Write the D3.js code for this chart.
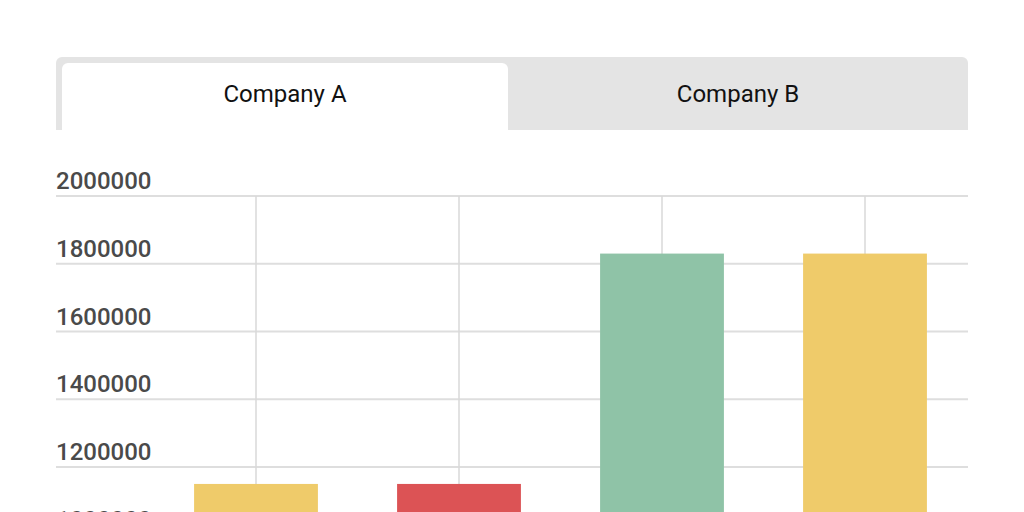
<!DOCTYPE html>
<html>
<head>
<meta charset="utf-8">
<script src="https://cdn.jsdelivr.net/npm/d3@7"></script>
<style>
  html, body { margin: 0; padding: 0; background: #fff; overflow: hidden; }
  body { width: 1024px; height: 512px; position: relative; font-family: Roboto, 'Noto Sans', sans-serif; }
  .tabs {
    position: absolute; left: 56px; top: 57px; width: 912px; height: 73px;
    background: #e4e4e4; border-radius: 6px 6px 0 0; box-sizing: border-box;
    padding: 6px 0 0 6px; display: flex;
  }
  .tab {
    flex: 1; display: flex; align-items: center; justify-content: center;
    font-size: 24px; color: #111; padding-bottom: 6px; border-radius: 6px 6px 0 0;
  }
  .tab--active { background: #fff; flex: 0 0 446px; }
  .chart { position: absolute; left: 0; top: 0; }
  .chart svg { display: block; }
  .tick-label { font-size: 24px; font-weight: 500; fill: #4a4a4a; }
</style>
</head>
<body>
<div class="tabs"></div>
<div class="chart"></div>
<script>
const tabs = ['Company A', 'Company B'];
const categories = ['Q1', 'Q2', 'Q3', 'Q4'];
const values = [1150000, 1150000, 1830000, 1830000];
const barColors = ['#efcb6a', '#dc5355', '#8fc3a7', '#efcb6a'];
const yTicks = [1000000, 1200000, 1400000, 1600000, 1800000, 2000000];
const activeTab = 0;

// tabs
d3.select('.tabs')
  .selectAll('.tab')
  .data(tabs)
  .join('div')
  .attr('class', (d, i) => `tab${i === activeTab ? ' tab--active' : ''}`)
  .text(d => d);

d3.selection.prototype.barChart = function init() {
  function createChart(el) {
    const $sel = d3.select(el);
    const data = categories.map((c, i) => ({ category: c, value: values[i], color: barColors[i] }));

    const width = 1024;
    const height = 512;
    const gridLeft = 56;
    const gridRight = 968;
    const plotLeft = 154.5;
    const plotRight = 966.5;
    const top = 196;
    const bottom = 534.75;
    const pad = 0.39;

    let $svg = null;

    const Chart = {
      init() {
        $svg = $sel.append('svg').attr('width', width).attr('height', height);
        Chart.render();
        return Chart;
      },
      render() {
        const x = d3.scaleBand()
          .domain(categories)
          .range([plotLeft, plotRight])
          .paddingInner(pad)
          .paddingOuter(pad / 2);
        const y = d3.scaleLinear().domain([1000000, 2000000]).range([bottom, top]);

        // horizontal grid
        $svg.append('g').attr('class', 'g-grid-y')
          .selectAll('line')
          .data(yTicks)
          .join('line')
          .attr('x1', gridLeft)
          .attr('x2', gridRight)
          .attr('y1', d => y(d))
          .attr('y2', d => y(d))
          .attr('stroke', '#dedede')
          .attr('stroke-width', 2);

        // vertical grid at category centres
        $svg.append('g').attr('class', 'g-grid-x')
          .selectAll('line')
          .data(categories)
          .join('line')
          .attr('x1', d => x(d) + x.bandwidth() / 2)
          .attr('x2', d => x(d) + x.bandwidth() / 2)
          .attr('y1', top)
          .attr('y2', height + 40)
          .attr('stroke', '#d8d8d8')
          .attr('stroke-width', 1.5);

        // tick labels
        $svg.append('g').attr('class', 'g-axis')
          .selectAll('text')
          .data(yTicks)
          .join('text')
          .attr('class', 'tick-label')
          .attr('x', gridLeft)
          .attr('y', d => y(d) - 7)
          .text(d => d3.format('d')(d));

        // bars
        $svg.append('g').attr('class', 'g-vis')
          .selectAll('rect')
          .data(data)
          .join('rect')
          .attr('x', d => x(d.category))
          .attr('width', x.bandwidth())
          .attr('y', d => y(d.value))
          .attr('height', d => y(1000000) - y(d.value))
          .attr('fill', d => d.color);

        return Chart;
      },
    };
    Chart.init();
    return Chart;
  }

  const charts = this.nodes().map(createChart);
  return charts.length > 1 ? charts : charts.pop();
};

d3.select('.chart').barChart();
</script>
</body>
</html>
